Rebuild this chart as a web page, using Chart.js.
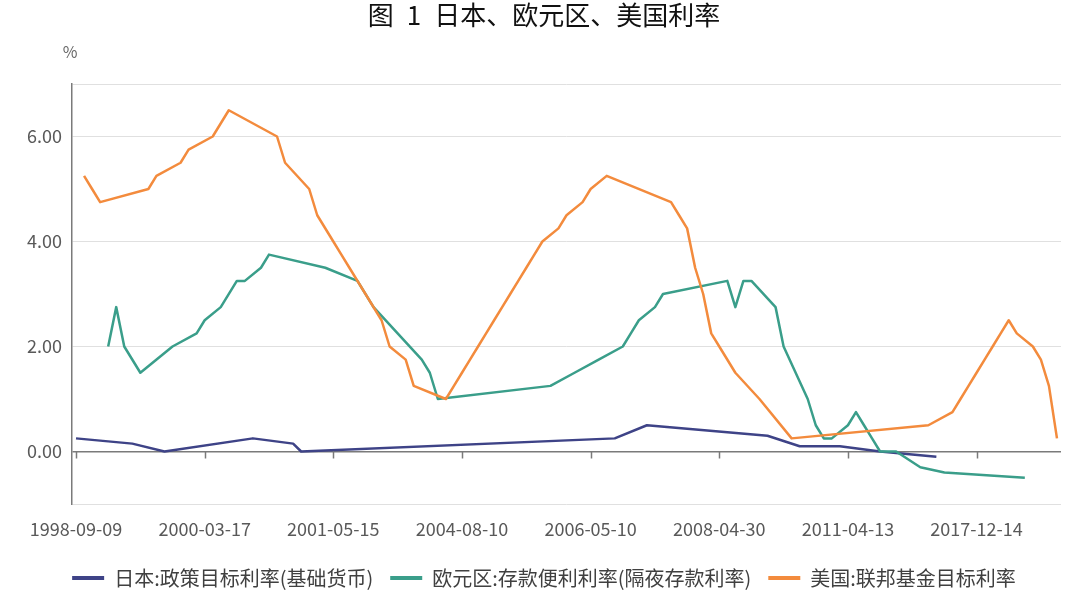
<!DOCTYPE html>
<html>
<head>
<meta charset="utf-8">
<script src="https://cdn.jsdelivr.net/npm/chart.js@4.4.1/dist/chart.umd.min.js"></script>
<style>
html,body{margin:0;padding:0;background:#ffffff;}
#wrap{width:1080px;height:592px;}
</style>
</head>
<body>
<div id="wrap"><canvas id="c" width="1080" height="592"></canvas></div>
<script>
// ---- categories (rate-change event dates) ----
const dates = [
'1998-09-09','1998-09-29','1998-10-15','1998-11-17','1999-01-01','1999-01-04','1999-01-22','1999-02-12','1999-04-09','1999-06-30',
'1999-08-24','1999-09-21','1999-11-05','1999-11-16','2000-02-02','2000-02-04','2000-03-17','2000-03-21','2000-04-28','2000-05-16',
'2000-06-09','2000-06-28','2000-08-11','2000-09-01','2000-10-06','2001-01-03','2001-01-31','2001-02-28','2001-03-19','2001-03-20',
'2001-04-18','2001-05-11','2001-05-15','2001-06-27','2001-08-21','2001-08-31','2001-09-17','2001-09-18','2001-10-02','2001-11-06',
'2001-11-09','2001-12-11','2002-11-06','2002-12-06','2003-03-07','2003-06-06','2003-06-25','2004-06-30','2004-08-10','2004-09-21',
'2004-11-10','2004-12-14','2005-02-02','2005-03-22','2005-05-03','2005-06-30','2005-08-09','2005-09-20','2005-11-01','2005-12-06',
'2005-12-13','2006-01-31','2006-03-08','2006-03-28','2006-05-10','2006-06-15','2006-06-29','2006-07-14','2006-08-09','2006-10-11',
'2006-12-13','2007-02-21','2007-03-14','2007-06-13','2007-09-18','2007-10-31','2007-12-11','2008-01-22','2008-01-30','2008-03-18',
'2008-04-30','2008-07-09','2008-10-08','2008-10-09','2008-10-15','2008-10-29','2008-10-31','2008-11-12','2008-12-10','2008-12-16',
'2008-12-19','2009-01-21','2009-03-11','2009-04-08','2009-05-13','2010-10-05','2011-04-13','2011-07-13','2011-11-09','2011-12-14',
'2012-07-11','2013-05-08','2013-11-13','2014-06-11','2014-09-10','2015-12-09','2015-12-16','2016-01-29','2016-03-16','2016-12-14',
'2017-03-15','2017-06-14','2017-12-14','2018-03-21','2018-06-13','2018-09-26','2018-12-19','2019-07-31','2019-09-12','2019-09-18',
'2019-10-30','2020-03-03','2020-03-15'
];
const labelEvery = 16;

// ---- Japan: policy target rate (monetary base) ----
const japanDates  = ['1998-09-09','1999-02-12','1999-09-21','2000-08-11','2001-02-28','2001-03-19','2006-07-14','2007-02-21','2008-10-31','2008-12-19','2010-10-05','2012-07-11','2016-01-29'];
const japanValues = [0.25, 0.15, 0.0, 0.25, 0.15, 0.0, 0.25, 0.5, 0.3, 0.1, 0.1, 0.0, -0.1];

// ---- Euro area: deposit facility rate ----
const euroDates  = ['1999-01-01','1999-01-04','1999-01-22','1999-04-09','1999-11-05','2000-02-04','2000-03-17','2000-04-28','2000-06-09','2000-06-28',
'2000-09-01','2000-10-06','2001-05-11','2001-08-31','2001-09-18','2001-11-09','2002-12-06','2003-03-07','2003-06-06','2005-12-06',
'2006-03-08','2006-06-15','2006-08-09','2006-10-11','2006-12-13','2007-03-14','2007-06-13','2008-07-09','2008-10-08','2008-10-09',
'2008-10-15','2008-11-12','2008-12-10','2009-01-21','2009-03-11','2009-04-08','2009-05-13','2011-04-13','2011-07-13','2011-11-09',
'2011-12-14','2012-07-11','2013-05-08','2013-11-13','2014-06-11','2014-09-10','2015-12-09','2016-03-16','2019-09-12'];
const euroValues = [2.0, 2.75, 2.0, 1.5, 2.0, 2.25, 2.5, 2.75, 3.25, 3.25,
3.5, 3.75, 3.5, 3.25, 2.75, 2.25, 1.75, 1.5, 1.0, 1.25,
1.5, 1.75, 2.0, 2.25, 2.5, 2.75, 3.0, 3.25, 2.75, 3.25,
3.25, 2.75, 2.0, 1.0, 0.5, 0.25, 0.25, 0.5, 0.75, 0.5,
0.25, 0.0, 0.0, 0.0, -0.1, -0.2, -0.3, -0.4, -0.5];

// ---- US: federal funds target rate ----
const usDates  = ['1998-09-29','1998-10-15','1998-11-17','1999-06-30','1999-08-24','1999-11-16','2000-02-02','2000-03-21','2000-05-16','2001-01-03',
'2001-01-31','2001-03-20','2001-04-18','2001-05-15','2001-06-27','2001-08-21','2001-09-17','2001-10-02','2001-11-06','2001-12-11',
'2002-11-06','2003-06-25','2004-06-30','2004-08-10','2004-09-21','2004-11-10','2004-12-14','2005-02-02','2005-03-22','2005-05-03',
'2005-06-30','2005-08-09','2005-09-20','2005-11-01','2005-12-13','2006-01-31','2006-03-28','2006-05-10','2006-06-29','2007-09-18',
'2007-10-31','2007-12-11','2008-01-22','2008-01-30','2008-03-18','2008-04-30','2008-10-08','2008-10-29','2008-12-16','2015-12-16',
'2016-12-14','2017-03-15','2017-06-14','2017-12-14','2018-03-21','2018-06-13','2018-09-26','2018-12-19','2019-07-31','2019-09-18',
'2019-10-30','2020-03-03','2020-03-15'];
const usValues = [5.25, 5.0, 4.75, 5.0, 5.25, 5.5, 5.75, 6.0, 6.5, 6.0,
5.5, 5.0, 4.5, 4.0, 3.75, 3.5, 3.0, 2.5, 2.0, 1.75,
1.25, 1.0, 1.25, 1.5, 1.75, 2.0, 2.25, 2.5, 2.75, 3.0,
3.25, 3.5, 3.75, 4.0, 4.25, 4.5, 4.75, 5.0, 5.25, 4.75,
4.5, 4.25, 3.5, 3.0, 2.25, 2.0, 1.5, 1.0, 0.25, 0.5,
0.75, 1.0, 1.25, 1.5, 1.75, 2.0, 2.25, 2.5, 2.25, 2.0,
1.75, 1.25, 0.25];

const seriesNames = ['日本:政策目标利率(基础货币)', '欧元区:存款便利利率(隔夜存款利率)', '美国:联邦基金目标利率'];
const titleText = '图\u20021\u2002日本、欧元区、美国利率';
const yTickValues = [-1, 0, 2, 4, 6, 7];

function align(ds, vs) {
  const m = {};
  ds.forEach((d, i) => { m[d] = vs[i]; });
  return dates.map(d => (d in m ? m[d] : null));
}

const FONT = '"Noto Sans CJK SC", "Noto Sans", sans-serif';
Chart.defaults.font.family = FONT;

const zeroTicks = {
  id: 'zeroTicks',
  afterDraw(chart) {
    const ctx = chart.ctx, xs = chart.scales.x, ys = chart.scales.y;
    const y0 = ys.getPixelForValue(0);
    ctx.save();
    ctx.strokeStyle = '#7a7a7a';
    ctx.lineWidth = 1.5;
    for (let i = 0; i < dates.length; i += labelEvery) {
      const x = Math.round(xs.getPixelForValue(i)) + 0.5;
      ctx.beginPath(); ctx.moveTo(x, y0); ctx.lineTo(x, y0 + 7); ctx.stroke();
    }
    ctx.fillStyle = '#666666';
    ctx.font = '16px ' + FONT;
    ctx.textAlign = 'center';
    ctx.textBaseline = 'middle';
    ctx.fillText('%', 70, 52);
    ctx.restore();
  }
};

new Chart(document.getElementById('c'), {
  type: 'line',
  data: {
    labels: dates,
    datasets: [
      { label: seriesNames[0], data: align(japanDates, japanValues), borderColor: '#3e4387', backgroundColor: '#3e4387', order: 2 },
      { label: seriesNames[1], data: align(euroDates, euroValues), borderColor: '#3a9e8a', backgroundColor: '#3a9e8a', order: 1 },
      { label: seriesNames[2], data: align(usDates, usValues), borderColor: '#f38b3d', backgroundColor: '#f38b3d', order: 0 }
    ]
  },
  options: {
    responsive: false,
    animation: false,
    devicePixelRatio: 1,
    spanGaps: true,
    elements: {
      line: { borderWidth: 2.5, tension: 0, fill: false, borderJoinStyle: 'round' },
      point: { radius: 0, hoverRadius: 0 }
    },
    layout: { padding: { left: 27, right: 19, top: 0, bottom: -6 } },
    plugins: {
      tooltip: { enabled: false },
      title: {
        display: true,
        text: titleText,
        color: '#111111',
        font: { size: 26, weight: 'normal', family: FONT },
        padding: { top: 0, bottom: 52.8 }
      },
      legend: {
        display: true,
        position: 'bottom',
        labels: {
          usePointStyle: true,
          pointStyleWidth: 32,
          padding: 17,
          color: '#404040',
          font: { size: 20, family: FONT },
          generateLabels(chart) {
            return chart.data.datasets.map((ds, i) => ({
              text: ds.label, strokeStyle: ds.borderColor, fillStyle: ds.borderColor,
              lineWidth: 4, pointStyle: 'line', hidden: false, datasetIndex: i, fontColor: '#404040'
            }));
          }
        }
      }
    },
    scales: {
      x: {
        type: 'category',
        offset: true,
        grid: { display: false },
        border: { display: false },
        ticks: {
          autoSkip: false, maxRotation: 0, minRotation: 0, padding: 6,
          color: '#595959', font: { size: 18 },
          callback: (v, i) => (i % labelEvery === 0 ? dates[i] : '')
        },
        afterFit(s) { s.height = 47; }
      },
      y: {
        min: -1, max: 7,
        afterBuildTicks(s) { s.ticks = yTickValues.map(v => ({ value: v })); },
        grid: {
          drawTicks: false,
          color: c => (c.tick && c.tick.value === 0 ? '#7a7a7a' : '#e0e0e0'),
          lineWidth: c => (c.tick && c.tick.value === 0 ? 1.5 : 1)
        },
        border: { display: true, color: '#7a7a7a', width: 1.5 },
        ticks: {
          padding: 10, color: '#595959', font: { size: 18 },
          callback: v => (v === -1 || v === 7 ? '' : Number(v).toFixed(2))
        },
        afterFit(s) { s.width = 45; }
      }
    }
  },
  plugins: [zeroTicks]
});
</script>
</body>
</html>
